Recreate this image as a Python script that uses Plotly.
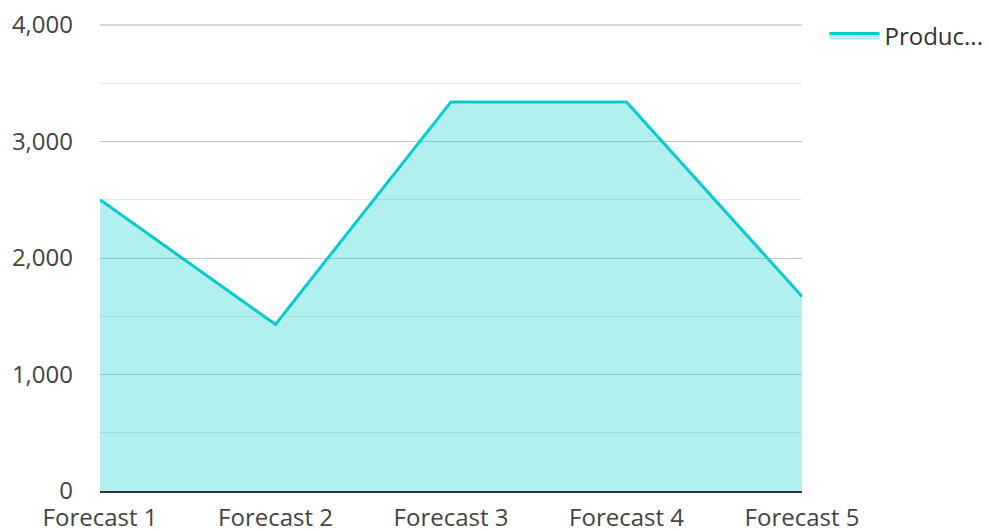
import plotly.graph_objects as go

categories = ["Forecast 1", "Forecast 2", "Forecast 3", "Forecast 4", "Forecast 5"]
values = [2500, 1430, 3340, 3340, 1670]
series_name = "Produc..."
y_ticks = [0, 1000, 2000, 3000, 4000]

fig = go.Figure()
fig.add_trace(go.Scatter(
    x=categories, y=values, name=series_name, mode="lines",
    line=dict(color="#00CCCC", width=3),
    fill="tozeroy", fillcolor="rgba(0,204,204,0.3)",
    showlegend=True,
))

# top gridline (plotly drops gridlines lying on the plot edge)
fig.add_shape(type="line", xref="paper", x0=0, x1=1, yref="paper", y0=1, y1=1,
              line=dict(color="#c8c8c8", width=1.5), layer="below")

fig.update_layout(
    width=989, height=531,
    margin=dict(l=100, r=187, t=25, b=40, autoexpand=False),
    paper_bgcolor="white", plot_bgcolor="white",
    font=dict(family="Open Sans", size=24, color="#444"),
    legend=dict(x=1.032, y=1.025, xanchor="left", yanchor="top",
                font=dict(size=24, color="#333"), itemwidth=50),
    xaxis=dict(range=[0, 4], showgrid=False, showline=True, linecolor="#333",
               linewidth=2, ticks="", zeroline=False, automargin=False,
               ticklabelstandoff=4),
    yaxis=dict(range=[0, 4000], tickvals=y_ticks, tickformat=",",
               showgrid=True, gridcolor="#c8c8c8", gridwidth=1, zeroline=False,
               showline=False, ticklabelstandoff=26, automargin=False,
               minor=dict(dtick=500, showgrid=True, gridcolor="#e8e8e8", gridwidth=1)),
)

fig.write_html("out.html")
